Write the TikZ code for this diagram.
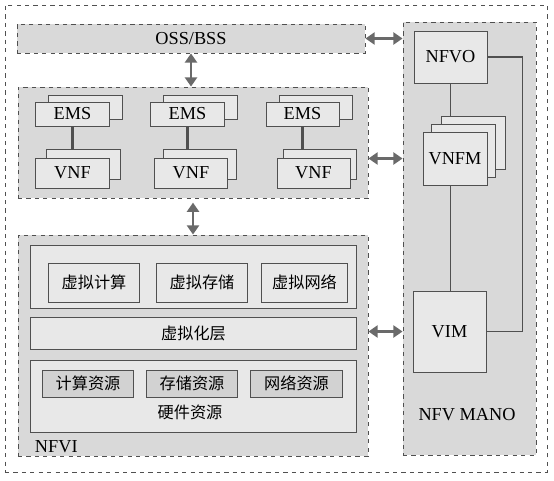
\documentclass[tikz,border=0pt]{standalone}
\usepackage{fontspec}
\setmainfont{Liberation Serif}
\newfontfamily\tms{Liberation Serif}
\newfontfamily\cjk{Noto Sans CJK SC}
\usetikzlibrary{arrows.meta}

\definecolor{grpgray}{HTML}{D9D9D9}
\definecolor{boxgray}{HTML}{E8E8E8}
\definecolor{hwgray}{HTML}{D2D2D2}
\definecolor{linegray}{HTML}{505050}
\definecolor{arrgray}{HTML}{6A6A6A}

\tikzset{
  grp/.style={draw=linegray, dashed, fill=grpgray, line width=0.6pt},
  box/.style={draw=linegray, fill=boxgray, line width=0.7pt, inner sep=0pt, font=\tms\fontsize{13}{15}\selectfont},
  cbox/.style={box, font=\cjk\fontsize{11.5}{13}\selectfont},
  lbl/.style={font=\tms\fontsize{13}{15}\selectfont},
  link/.style={draw=linegray, line width=#1},
  link/.default=0.8pt,
  dbl/.style={draw=arrgray, line width=2pt, {Triangle[length=6.5pt,width=8.5pt]}-{Triangle[length=6.5pt,width=8.5pt]}}
}

\begin{document}
\begin{tikzpicture}[x=0.025cm, y=-0.025cm]
\useasboundingbox[fill=white] (0,0) rectangle (554,481);

% frame and groups
\node[grp, fill=none, minimum width=13.55cm, minimum height=11.675cm] (frame) at (276,238.5) {};
\node[grp, minimum width=8.7cm, minimum height=0.725cm, lbl] (oss) at (191,38.5) {OSS/BSS};
\node[grp, minimum width=8.75cm, minimum height=2.775cm] (vnfgrp) at (193,142.5) {};
\node[grp, minimum width=8.75cm, minimum height=5.525cm] (nfvi) at (193,345.5) {};
\node[grp, minimum width=3.325cm, minimum height=10.825cm] (mano) at (469.5,238.5) {};

% EMS / VNF columns
\foreach \i/\ex/\vx/\vo in {1/72.5/72.5/11, 2/187.5/191/9, 3/302.5/313.5/6} {
  \node[box, minimum width=1.825cm, minimum height=0.6cm] (emsb\i) at (\ex+13,107) {};
  \node[box, minimum width=1.825cm, minimum height=0.6cm] (ems\i) at (\ex,114) {EMS};
  \node[box, minimum width=1.825cm, minimum height=0.75cm] (vnfb\i) at (\vx+\vo,164) {};
  \node[box, minimum width=1.825cm, minimum height=0.75cm] (vnf\i) at (\vx,173) {VNF};
  \draw[link=1.8pt] (ems\i.south) -- (ems\i.south |- vnfb\i.north);
}

% NFVI
\node[box, minimum width=8.125cm, minimum height=1.575cm] (virt) at (193.5,276.5) {};
\node[cbox, minimum width=2.25cm, minimum height=0.975cm] (vcomp) at (94,282.5) {虚拟计算};
\node[cbox, minimum width=2.25cm, minimum height=0.975cm] (vstor) at (202,282.5) {虚拟存储};
\node[cbox, minimum width=2.125cm, minimum height=0.975cm] (vnet) at (304.5,282.5) {虚拟网络};
\node[cbox, minimum width=8.125cm, minimum height=0.8cm] (vlayer) at (193.5,333) {虚拟化层};
\node[box, minimum width=8.125cm, minimum height=1.8cm] (hw) at (193.5,396) {};
\node[cbox, fill=hwgray, minimum width=2.25cm, minimum height=0.675cm] (hcomp) at (88,383.5) {计算资源};
\node[cbox, fill=hwgray, minimum width=2.25cm, minimum height=0.675cm] (hstor) at (192,383.5) {存储资源};
\node[cbox, fill=hwgray, minimum width=2.275cm, minimum height=0.675cm] (hnet) at (296.5,383.5) {网络资源};
\node[font=\cjk\fontsize{11.5}{13}\selectfont] (hwlbl) at (190,412) {硬件资源};
\node[lbl, anchor=west] (nfvilbl) at (30,447) {NFVI};

% NFV MANO
\node[box, minimum width=1.825cm, minimum height=1.3cm] (nfvo) at (450.5,57) {NFVO};
\node[box, minimum width=1.825cm, minimum height=2.025cm] (vim) at (449.5,331.5) {VIM};
\draw[link] (nfvo.south) -- (nfvo.south |- vim.north);
\node[box, minimum width=1.6cm, minimum height=1.325cm] (vnfmb2) at (473,142.5) {};
\node[box, minimum width=1.6cm, minimum height=1.325cm] (vnfmb1) at (463,150.5) {};
\node[box, minimum width=1.6cm, minimum height=1.325cm] (vnfm) at (455,158.5) {VNFM};
\draw[link] (nfvo.east) -- ++(35,0) |- (vim.east);
\node[lbl] (manolbl) at (467,415) {NFV MANO};

% reference points
\draw[dbl] (oss.south) -- (oss.south |- vnfgrp.north);
\draw[dbl] ([yshift=-3pt]vnfgrp.south) -- (vnfgrp.south |- nfvi.north);
\draw[dbl] (oss.east) -- (oss.east -| mano.west);
\draw[dbl] (vnfm -| vnfgrp.east) -- (vnfm -| mano.west);
\draw[dbl] (vim -| nfvi.east) -- (vim -| mano.west);

\end{tikzpicture}
\end{document}
